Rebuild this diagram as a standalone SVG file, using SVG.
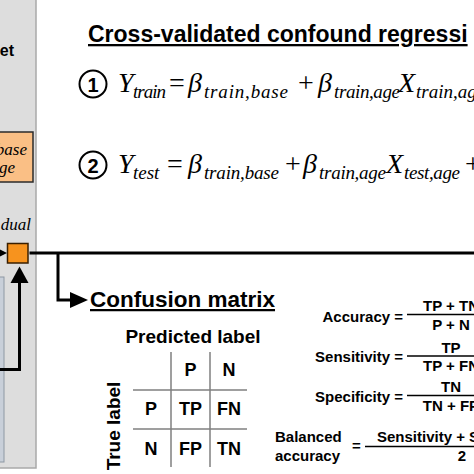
<svg xmlns="http://www.w3.org/2000/svg" width="474" height="474" viewBox="0 0 474 474">
<defs>
<style>
.sans{font-family:"Liberation Sans",Arial,sans-serif;font-weight:bold;fill:#000}
.math{font-family:"Liberation Serif","Times New Roman",serif;font-style:italic;fill:#000}
.up{font-family:"Liberation Serif","Times New Roman",serif;font-style:normal;fill:#000}
.conn{fill:none;stroke:#000;stroke-width:3}
.grid{stroke:#7f7f7f;stroke-width:1.5}
.frac{stroke:#000;stroke-width:1.5}
.head{fill:#000}
</style>
</defs>
<rect width="474" height="474" fill="#ffffff"/>

<g id="dataset-panel">
<rect x="-2" y="-2" width="38" height="470" fill="#dddddd" stroke="#a9a9a9" stroke-width="1.5"/>
<text class="sans" x="14" y="56" font-size="16" text-anchor="end">et</text>
<rect x="-1" y="277" width="5" height="185" fill="#c8cfd9" stroke="#8e98a3" stroke-width="1"/>
</g>

<g id="base-age-box">
<rect x="-2" y="132" width="35" height="50" fill="#fabf85" stroke="#2b2b2b" stroke-width="1.5"/>
<text class="math" x="27" y="155" font-size="17" text-anchor="end">base</text>
<text class="math" x="15" y="173" font-size="17" text-anchor="end">ge</text>
</g>

<g id="residual">
<text class="math" x="31" y="230" font-size="17" text-anchor="end">dual</text>
<rect x="7.5" y="243.5" width="20.5" height="19.5" fill="#f7931e" stroke="#3a1f00" stroke-width="1.5"/>
</g>

<g id="connectors">
<polygon class="head" points="0,249.5 7,253 0,256.5"/>
<path class="conn" d="M29.5,253 H474"/>
<path class="conn" d="M58,253 V300 H78"/>
<polygon class="head" points="70,292 88,300 70,308"/>
<path class="conn" d="M0,369.5 H19.5 V281"/>
<polygon class="head" points="10.5,283 28.5,283 19.5,266.5"/>
</g>

<g id="regression-title">
<text class="sans" x="88" y="42" font-size="23" text-decoration="underline">Cross-validated confound regressi</text>
</g>

<g id="equation-1">
<circle cx="93" cy="84" r="13.5" fill="none" stroke="#000" stroke-width="2"/>
<text class="sans" x="93" y="91.5" font-size="20" text-anchor="middle">1</text>
<text class="math" x="118" y="92" font-size="28">Y</text>
<text class="math" x="133" y="98" font-size="19" textLength="33">train</text>
<text class="up" x="169" y="92" font-size="28">=</text>
<text class="math" x="188" y="92" font-size="28">β</text>
<text class="math" x="204" y="98" font-size="19" textLength="84">train,base</text>
<text class="up" x="298" y="92" font-size="28">+</text>
<text class="math" x="318" y="92" font-size="28">β</text>
<text class="math" x="334" y="98" font-size="19" textLength="66">train,age</text>
<text class="math" x="398" y="92" font-size="28">X</text>
<text class="math" x="416" y="98" font-size="19">train,ag</text>
</g>

<g id="equation-2">
<circle cx="93" cy="165" r="13.5" fill="none" stroke="#000" stroke-width="2"/>
<text class="sans" x="93" y="172.5" font-size="20" text-anchor="middle">2</text>
<text class="math" x="118" y="173" font-size="28">Y</text>
<text class="math" x="133" y="179" font-size="19">test</text>
<text class="up" x="167" y="173" font-size="28">=</text>
<text class="math" x="188" y="173" font-size="28">β</text>
<text class="math" x="204" y="179" font-size="19" textLength="75">train,base</text>
<text class="up" x="285" y="173" font-size="28">+</text>
<text class="math" x="303" y="173" font-size="28">β</text>
<text class="math" x="319" y="179" font-size="19" textLength="67">train,age</text>
<text class="math" x="386" y="173" font-size="28">X</text>
<text class="math" x="404" y="179" font-size="19" textLength="56">test,age</text>
<text class="up" x="465" y="173" font-size="28">+</text>
</g>

<g id="confusion-matrix">
<text class="sans" x="90" y="307" font-size="22.5" text-decoration="underline">Confusion matrix</text>
<text class="sans" x="193" y="343" font-size="19" text-anchor="middle">Predicted label</text>
<text class="sans" x="0" y="0" font-size="19" text-anchor="middle" transform="translate(120,426) rotate(-90)">True label</text>
<line class="grid" x1="171" y1="352" x2="171" y2="467"/>
<line class="grid" x1="210" y1="352" x2="210" y2="467"/>
<line class="grid" x1="133" y1="390" x2="247" y2="390"/>
<line class="grid" x1="133" y1="429" x2="247" y2="429"/>
<text class="sans" x="190.5" y="376" font-size="18" text-anchor="middle">P</text>
<text class="sans" x="229" y="376" font-size="18" text-anchor="middle">N</text>
<text class="sans" x="151" y="415" font-size="18" text-anchor="middle">P</text>
<text class="sans" x="190.5" y="415" font-size="18" text-anchor="middle">TP</text>
<text class="sans" x="229" y="415" font-size="18" text-anchor="middle">FN</text>
<text class="sans" x="151" y="455" font-size="18" text-anchor="middle">N</text>
<text class="sans" x="190.5" y="455" font-size="18" text-anchor="middle">FP</text>
<text class="sans" x="229" y="455" font-size="18" text-anchor="middle">TN</text>
</g>

<g id="metrics">
<text class="sans" x="403" y="322" font-size="15" text-anchor="end">Accuracy =</text>
<line class="frac" x1="407" y1="314.5" x2="474" y2="314.5"/>
<text class="sans" x="451" y="311" font-size="15" text-anchor="middle">TP + TN</text>
<text class="sans" x="451" y="330" font-size="15" text-anchor="middle">P + N</text>

<text class="sans" x="403" y="362" font-size="15" text-anchor="end">Sensitivity =</text>
<line class="frac" x1="407" y1="356" x2="474" y2="356"/>
<text class="sans" x="451" y="353" font-size="15" text-anchor="middle">TP</text>
<text class="sans" x="451" y="371" font-size="15" text-anchor="middle">TP + FN</text>

<text class="sans" x="403" y="402" font-size="15" text-anchor="end">Specificity =</text>
<line class="frac" x1="407" y1="395.5" x2="474" y2="395.5"/>
<text class="sans" x="451" y="392" font-size="15" text-anchor="middle">TN</text>
<text class="sans" x="451" y="411" font-size="15" text-anchor="middle">TN + FP</text>

<text class="sans" x="275" y="442" font-size="15">Balanced</text>
<text class="sans" x="275" y="461" font-size="15">accuracy</text>
<text class="sans" x="352" y="451" font-size="15">=</text>
<line class="frac" x1="365" y1="446.5" x2="474" y2="446.5"/>
<text class="sans" x="377" y="442" font-size="15">Sensitivity + S</text>
<text class="sans" x="462" y="461" font-size="15" text-anchor="middle">2</text>
</g>
</svg>
